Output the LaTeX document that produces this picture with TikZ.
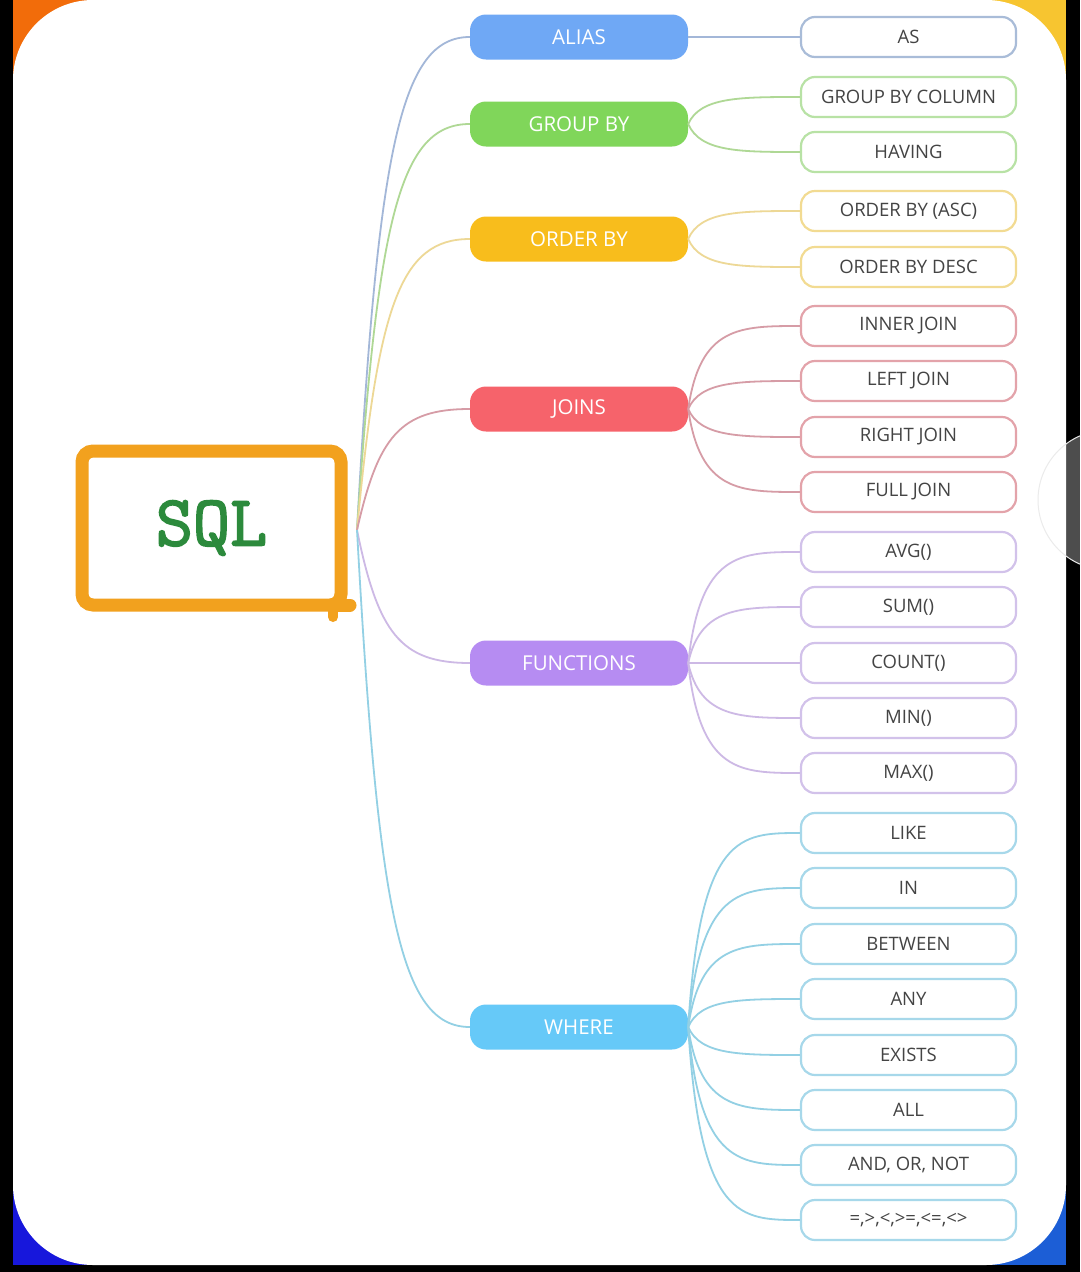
\documentclass[tikz,border=0pt]{standalone}
\usepackage{fontspec}
\setmainfont{Open Sans}
\newfontfamily\sqlfont[FakeBold=2.4]{Latin Modern Mono}
\usetikzlibrary{positioning,calc}

% panel and corner colours
\definecolor{cornerTL}{HTML}{F26C0A}
\definecolor{cornerTR}{HTML}{F7C530}
\definecolor{cornerBL}{HTML}{1717DC}
\definecolor{cornerBR}{HTML}{1C5ED6}
% root box
\definecolor{sqlOrange}{HTML}{F2A11E}
\definecolor{sqlGreen}{HTML}{2C8A3C}
% branch fills
\definecolor{fAlias}{HTML}{6FA8F5}
\definecolor{fGroup}{HTML}{80D65A}
\definecolor{fOrder}{HTML}{F8BD1C}
\definecolor{fJoins}{HTML}{F6636B}
\definecolor{fFuncs}{HTML}{B68CF2}
\definecolor{fWhere}{HTML}{66C9F8}
% leaf borders
\definecolor{bdAlias}{HTML}{A9BCD8}
\definecolor{bdGroup}{HTML}{B8E2A5}
\definecolor{bdOrder}{HTML}{F2DB92}
\definecolor{bdJoins}{HTML}{E3A3AA}
\definecolor{bdFuncs}{HTML}{D2C2EA}
\definecolor{bdWhere}{HTML}{A7D8EA}
% links
\definecolor{lkAlias}{HTML}{A3B7D8}
\definecolor{lkGroup}{HTML}{AFD895}
\definecolor{lkOrder}{HTML}{EDD896}
\definecolor{lkJoins}{HTML}{D69CA6}
\definecolor{lkFuncs}{HTML}{CDB9E5}
\definecolor{lkWhere}{HTML}{93D0E4}
\definecolor{leafText}{HTML}{444444}

\begin{document}
\begin{tikzpicture}[x=1pt,y=-1pt,
	Branch/.style={rectangle,rounded corners=16pt,fill=#1,minimum width=218pt,minimum height=45pt,inner sep=0pt,text=white,font=\fontsize{20.5}{20.5}\selectfont},
	Leaf/.style={rectangle,rounded corners=14pt,draw=#1,line width=2.2pt,fill=white,minimum width=215pt,minimum height=40pt,inner sep=0pt,text=leafText,font=\fontsize{18.5}{18.5}\selectfont},
	Link/.style={#1,line width=1.8pt},
]
	\useasboundingbox (0,0) rectangle (1080,1272);
	\clip (0,0) rectangle (1080,1272);

	% screen frame
	\fill[black] (0,0) rectangle (1080,1272);
	\fill[cornerTL] (13,0) rectangle (540,636);
	\fill[cornerTR] (540,0) rectangle (1066,636);
	\fill[cornerBL] (13,636) rectangle (540,1265);
	\fill[cornerBR] (540,636) rectangle (1066,1265);
	\fill[white,rounded corners=80pt] (13,0) rectangle (1066,1265);
	\fill[white,opacity=0.3] (1108,500) circle (70);
	\draw[black!8,line width=1pt] (1108,500) circle (70);

	% root
	\node[draw=sqlOrange,line width=13pt,rounded corners=11pt,minimum width=259pt,minimum height=154pt,inner sep=0pt,
		text=sqlGreen,font=\sqlfont\fontsize{72}{72}\selectfont] (root) at (211.5,528) {SQL};
	\draw[sqlOrange,line width=13pt,line cap=round] (338,605) -- (350,605);
	\draw[sqlOrange,line width=10pt,line cap=round] (333,606) -- (333,617);
	\coordinate (org) at (357,530);

	% branches
	\node[Branch=fAlias] (alias) at (579,37) {ALIAS};
	\node[Branch=fGroup] (group) at (579,124) {GROUP BY};
	\node[Branch=fOrder] (order) at (579,239) {ORDER BY};
	\node[Branch=fJoins] (joins) at (579,409) {JOINS};
	\node[Branch=fFuncs] (funcs) at (579,663) {FUNCTIONS};
	\node[Branch=fWhere] (where) at (579,1027) {WHERE};

	\foreach \b/\y/\c in {alias/37/lkAlias,group/124/lkGroup,order/239/lkOrder,joins/409/lkJoins,funcs/663/lkFuncs,where/1027/lkWhere}
		\draw[Link=\c] (org) .. controls (378,{\y+0.23*(530-\y)}) and (400,\y) .. (\b.west);

	% leaves
	\node[Leaf=bdAlias] (as) at (908.5,37) {AS};
	\draw[Link=lkAlias] (alias.east) -- (as.west);

	\foreach \l/\y/\t in {grpCol/97/GROUP BY COLUMN,having/152/HAVING}{
		\node[Leaf=bdGroup] (\l) at (908.5,\y) {\t};
		\draw[Link=lkGroup] (group.east) .. controls ($(group.east |- \l.west)+(12,0)$) and ($(\l.west)+(-60,0)$) .. (\l.west);
	}
	\foreach \l/\y/\t in {ordAsc/211/ORDER BY (ASC),ordDesc/267/ORDER BY DESC}{
		\node[Leaf=bdOrder] (\l) at (908.5,\y) {\t};
		\draw[Link=lkOrder] (order.east) .. controls ($(order.east |- \l.west)+(12,0)$) and ($(\l.west)+(-60,0)$) .. (\l.west);
	}
	\foreach \l/\y/\t in {jInner/326/INNER JOIN,jLeft/381/LEFT JOIN,jRight/437/RIGHT JOIN,jFull/492/FULL JOIN}{
		\node[Leaf=bdJoins] (\l) at (908.5,\y) {\t};
		\draw[Link=lkJoins] (joins.east) .. controls ($(joins.east |- \l.west)+(12,0)$) and ($(\l.west)+(-60,0)$) .. (\l.west);
	}
	\foreach \l/\y/\t in {fAvg/552/AVG(),fSum/607/SUM(),fCount/663/COUNT(),fMin/718/MIN(),fMax/773/MAX()}{
		\node[Leaf=bdFuncs] (\l) at (908.5,\y) {\t};
		\draw[Link=lkFuncs] (funcs.east) .. controls ($(funcs.east |- \l.west)+(12,0)$) and ($(\l.west)+(-60,0)$) .. (\l.west);
	}
	\foreach \l/\y/\t in {wLike/833/LIKE,wIn/888/IN,wBetween/944/BETWEEN,wAny/999/ANY,wExists/1055/EXISTS,wAll/1110/ALL,wLogic/1165/{AND, OR, NOT},wCmp/1220/{=,>,<,>=,<=,<>}}{
		\node[Leaf=bdWhere] (\l) at (908.5,\y) {\t};
		\draw[Link=lkWhere] (where.east) .. controls ($(where.east |- \l.west)+(12,0)$) and ($(\l.west)+(-60,0)$) .. (\l.west);
	}
\end{tikzpicture}
\end{document}
